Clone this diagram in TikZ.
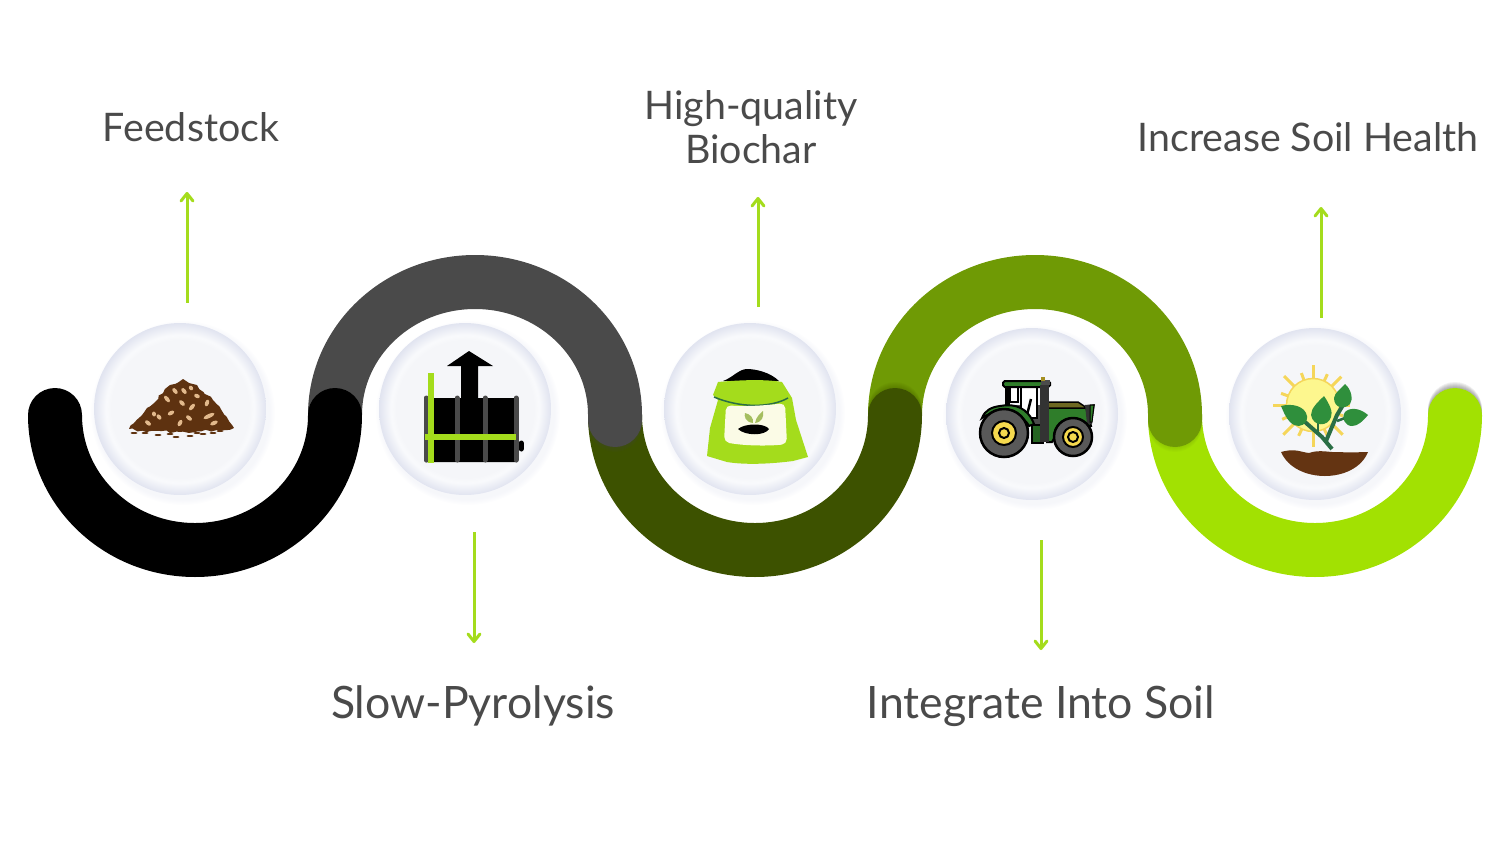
\documentclass[tikz,border=0pt]{standalone}
\usepackage{fontspec}
\setmainfont{Lato}
\usetikzlibrary{arrows.meta, decorations.pathmorphing}

\definecolor{bandblack}{HTML}{000000}
\definecolor{bandgray}{HTML}{4A4A4A}
\definecolor{banddark}{HTML}{3D5200}
\definecolor{bandolive}{HTML}{6F9A05}
\definecolor{bandlime}{HTML}{A2E102}
\definecolor{arrowlime}{HTML}{A4DC1C}
\definecolor{labelgray}{HTML}{4A4A4A}
\definecolor{platein}{HTML}{F5F6F9}
\definecolor{platemid}{HTML}{F9FAFC}
\definecolor{platerim}{HTML}{E1E4F0}
\definecolor{soilbrown}{HTML}{643412}
\definecolor{pilebrown}{HTML}{5E3210}
\definecolor{graintan}{HTML}{E2B98C}
\definecolor{leafgreen}{HTML}{2F8F3C}
\definecolor{stemgreen}{HTML}{2A6E45}
\definecolor{sunyellow}{HTML}{FDF78E}
\definecolor{rayyellow}{HTML}{F5D65A}
\definecolor{tractorgreen}{HTML}{2F7D2A}
\definecolor{hubyellow}{HTML}{F5D94E}
\definecolor{bagcream}{HTML}{FBFBE6}
\definecolor{sproutgreen}{HTML}{A5BE5F}

\pgfdeclareradialshading{platefill}{\pgfpoint{0bp}{0bp}}{color(0bp)=(platein); color(20bp)=(platein); color(21.5bp)=(platemid); color(25bp)=(platerim); color(50bp)=(platerim)}

\tikzset{
	band/.style={line width=1.08cm, line cap=round},
	plate/.style={circle, shading=platefill, minimum size=3.44cm, inner sep=0pt},
	toplabel/.style={text=labelgray, align=center, inner sep=0pt, font=\fontsize{22.4}{25}\selectfont},
	lowlabel/.style={text=labelgray, align=center, inner sep=0pt, font=\fontsize{25.4}{29}\selectfont},
	flowarrow/.style={draw=arrowlime, line width=0.06cm, -{Straight Barb[length=0.15cm, width=0.24cm, round]}},
	capglow/.style={opacity=0.06},
}

\begin{document}
\begin{tikzpicture}[x=0.02cm, y=-0.02cm]
	\useasboundingbox (0, 0) rectangle (1500, 845);

	% bands, last one first
	\foreach \up in {1, ..., 6} {
		\fill[black, capglow] (1455, 415 - \up) circle (27);
	}
	\draw[band, bandlime] (1175, 415) arc[start angle=180, end angle=0, x radius=140, y radius=135];
	\foreach \up in {1, ..., 5} {
		\fill[bandolive, capglow] (1175, 420 + \up) circle (27);
	}
	\draw[band, bandolive] (895, 415) arc[start angle=180, end angle=360, x radius=140, y radius=133] -- (1175, 420);
	\foreach \up in {1, ..., 6} {
		\fill[banddark, capglow] (895, 415 - \up) circle (27);
	}
	\draw[band, banddark] (615, 415) arc[start angle=180, end angle=0, x radius=140, y radius=135];
	\foreach \up in {1, ..., 5} {
		\fill[bandgray, capglow] (615, 420 + \up) circle (27);
	}
	\draw[band, bandgray] (335, 415) arc[start angle=180, end angle=360, x radius=140, y radius=133] -- (615, 420);
	\draw[band, bandblack] (55, 415) arc[start angle=180, end angle=0, x radius=140, y radius=135];

	% soft shadow under the plates
	\foreach \px/\py in {180/409, 465/409, 750/409, 1032/414, 1315/414} {
		\foreach \grow in {1, ..., 6} {
			\fill[platerim, opacity=0.06] (\px + 3, \py + 4) circle (86 + \grow);
		}
	}

	\node[plate] (feedplate) at (180, 409) {};
	\node[plate] (kilnplate) at (465, 409) {};
	\node[plate] (bagplate) at (750, 409) {};
	\node[plate] (tractorplate) at (1032, 414) {};
	\node[plate] (plantplate) at (1315, 414) {};

	\node[toplabel] (feedstock) at (191, 127) {Feedstock};
	\node[toplabel] (biochar) at (751, 127) {High-quality\\Biochar};
	\node[toplabel] (soilhealth) at (1308, 137) {Increase Soil Health};
	\node[lowlabel] (pyrolysis) at (473, 706) {Slow-Pyrolysis};
	\node[lowlabel] (integrate) at (1041, 706) {Integrate Into Soil};

	\coordinate (feedtip) at (187, 192);
	\coordinate (kilntip) at (474, 643);
	\coordinate (bagtip) at (758, 197);
	\coordinate (tractortip) at (1041, 650);
	\coordinate (planttip) at (1321, 207);

	\draw[flowarrow, shorten <=0.4cm] (feedplate.north -| feedtip) -- (feedtip);
	\draw[flowarrow, shorten <=0.74cm] (kilnplate.south -| kilntip) -- (kilntip);
	\draw[flowarrow, shorten <=0.32cm] (bagplate.north -| bagtip) -- (bagtip);
	\draw[flowarrow, shorten <=0.8cm] (tractorplate.south -| tractortip) -- (tractortip);
	\draw[flowarrow, shorten <=0.2cm] (plantplate.north -| planttip) -- (planttip);

	% feedstock pile
	\fill[pilebrown, decorate, decoration={random steps, segment length=2.5pt, amplitude=0.9pt}] (129, 429) -- (147, 408) -- (170, 385) -- (183, 379) -- (197, 385) -- (213, 400) -- (234, 428) -- (210, 431) -- (180, 432) -- (150, 431) -- cycle;
	\foreach \gx/\gy/\ga/\gr in {175/391/-50/3.5, 184/391/-50/3.5, 191/388/-60/2.5, 197/396/-25/3, 167/399/-50/4, 182/403/-45/3.5, 192/407/50/4, 207/403/70/3.5, 209/416/25/6, 214/423/25/4, 189/418/-40/3.5, 180/423/60/3.5, 171/413/30/3.5, 159/417/-50/3, 154/414/-80/2.5, 148/423/-40/3.5} {
		\fill[graintan, shift={(\gx, \gy)}, rotate=\ga] (0, 0) ellipse (\gr cm*0.02 and 0.04cm);
	}
	\foreach \gx/\gy in {134/433, 145/433, 158/435, 170/434, 176/437, 190/436, 197/433, 203/434, 213/433, 220/431} {
		\fill[pilebrown] (\gx, \gy) ellipse (3.5 and 1);
	}

	% kiln
	\fill[black] (447, 366) -- (469, 351) -- (493, 366) -- (478, 366) -- (478, 398) -- (517, 398) -- (517, 462) -- (425, 462) -- (425, 398) -- (461, 398) -- (461, 366) -- cycle;
	\foreach \bx in {426, 457, 485, 516} {
		\draw[bandgray, line width=0.1cm, line cap=round] (\bx, 398) -- (\bx, 460);
	}
	\draw[black, line width=0.1cm, line cap=round] (521, 443) -- (521, 449);
	\draw[arrowlime, line width=0.11cm] (431, 373) -- (431, 463);
	\draw[arrowlime, line width=0.11cm] (425, 437) -- (516, 437);

	% biochar bag
	\fill[black] (723, 381) .. controls (732, 378) and (739, 369) .. (747, 369) .. controls (755, 369) and (770, 372) .. (779, 381) -- cycle;
	\fill[arrowlime] (718, 382) .. controls (740, 380) and (765, 379) .. (782, 382) -- (792, 398) -- (796, 420) -- (808, 457) -- (793, 461) .. controls (770, 464) and (745, 465) .. (727, 462) -- (707, 456) -- (710, 428) -- (718, 400) -- (713, 395) -- cycle;
	\draw[stemgreen, line width=0.03cm] (714, 397) .. controls (740, 408) and (770, 408) .. (788, 398);
	\fill[bagcream, rounded corners=3pt] (726, 405) .. controls (745, 407) and (770, 405) .. (785, 403) -- (787, 444) .. controls (770, 446) and (745, 446) .. (724, 442) -- cycle;
	\fill[sproutgreen] (753, 423) .. controls (745, 422) and (744, 416) .. (745, 413) .. controls (750, 414) and (754, 418) .. (753, 423) -- cycle;
	\fill[sproutgreen] (755, 423) .. controls (756, 416) and (762, 412) .. (763, 411) .. controls (764, 417) and (762, 422) .. (755, 423) -- cycle;
	\fill[black] (738, 429) .. controls (745, 423) and (765, 423) .. (769, 429) .. controls (765, 436) and (745, 436) .. (738, 429) -- cycle;

	% tractor
	\fill[black!70] (1005, 405) rectangle (1040, 425);
	\fill[white, draw=black, line width=0.04cm] (1010, 386) rectangle (1018, 402);
	\fill[white, draw=black, line width=0.04cm] (1021, 386) rectangle (1037, 418);
	\draw[black, line width=0.1cm] (1007, 385) -- (1007, 408);
	\draw[black, line width=0.05cm] (1027, 415) -- (1031, 399);
	\fill[tractorgreen, draw=black, line width=0.04cm, rounded corners=1pt] (1003, 381) rectangle (1050, 387);
	\fill[tractorgreen, draw=black, line width=0.04cm] (1047, 407) -- (1086, 407) -- (1091, 426) -- (1060, 428) -- (1052, 442) -- (1047, 442) -- cycle;
	\fill[olive!70!black, draw=black, line width=0.03cm] (1048, 402) -- (1078, 402) -- (1087, 408) -- (1048, 408) -- cycle;
	\fill[black!80] (1085, 405) -- (1095, 404) -- (1092, 424) -- (1087, 424) -- cycle;
	\fill[tractorgreen, draw=black, line width=0.02cm] (1090, 405) -- (1094, 405) -- (1092, 422) -- (1090, 422) -- cycle;
	\fill[tractorgreen, draw=black, line width=0.04cm] (982, 418) .. controls (985, 410) and (992, 407) .. (1000, 406) .. controls (1015, 403) and (1028, 408) .. (1034, 424) -- (1029, 426) .. controls (1022, 412) and (995, 408) .. (982, 418) -- cycle;
	\fill[tractorgreen!80!black, draw=black, line width=0.03cm] (1032, 425) rectangle (1043, 443);
	\fill[black!80] (1040, 385) rectangle (1049, 442);
	\fill[black!70] (1041, 380) rectangle (1050, 385);
	\fill[olive!60!brown] (1041, 377) rectangle (1045, 381);
	\foreach \wx/\wy/\wr/\hr/\cr in {1004/433/24/12/5, 1073/437/19/10/5} {
		\fill[black!65, draw=black, line width=0.05cm] (\wx, \wy) circle (\wr);
		\fill[hubyellow, draw=black, line width=0.04cm] (\wx, \wy) circle (\hr);
		\draw[black, line width=0.04cm] (\wx, \wy) circle (\cr);
	}

	% plant and sun
	\foreach \ra/\rl in {90/42, 65/34, 45/42, 115/34, 135/42, 155/34, 180/40, 200/34, 225/41, 250/34, 270/40, 295/34, 315/40, 0/37, 20/32} {
		\draw[rayyellow, line width=0.06cm] (1313, 405) -- ++(\ra:\rl);
	}
	\fill[sunyellow, draw=rayyellow, line width=0.03cm] (1313, 405) circle (26.5);
	\fill[soilbrown] (1281, 452) .. controls (1295, 448) and (1300, 452) .. (1309, 453) .. controls (1320, 449) and (1330, 453) .. (1340, 452) .. controls (1350, 453) and (1360, 452) .. (1368, 452) .. controls (1355, 484) and (1295, 484) .. (1281, 452) -- cycle;
	\draw[stemgreen, line width=0.08cm] (1332, 449) -- (1322, 437) -- (1305, 422);
	\draw[stemgreen, line width=0.08cm] (1326, 441) -- (1337, 415) -- (1343, 405);
	\draw[stemgreen, line width=0.05cm] (1318, 432) -- (1318, 415);
	\draw[stemgreen, line width=0.05cm] (1337, 421) -- (1345, 418);
	\fill[leafgreen] (1281, 406) .. controls (1292, 403) and (1305, 406) .. (1307, 416) .. controls (1308, 424) and (1300, 428) .. (1294, 425) .. controls (1287, 421) and (1284, 413) .. (1281, 406) -- cycle;
	\fill[leafgreen] (1324, 396) .. controls (1330, 405) and (1333, 412) .. (1331, 417) .. controls (1328, 427) and (1313, 427) .. (1311, 415) .. controls (1311, 408) and (1318, 402) .. (1324, 396) -- cycle;
	\fill[leafgreen] (1345, 384) .. controls (1352, 390) and (1353, 400) .. (1350, 404) .. controls (1344, 410) and (1334, 408) .. (1334, 398) .. controls (1335, 392) and (1340, 390) .. (1345, 384) -- cycle;
	\fill[leafgreen] (1368, 415) .. controls (1360, 408) and (1350, 407) .. (1345, 412) .. controls (1341, 418) and (1345, 426) .. (1352, 426) .. controls (1358, 426) and (1363, 421) .. (1368, 415) -- cycle;
\end{tikzpicture}
\end{document}
